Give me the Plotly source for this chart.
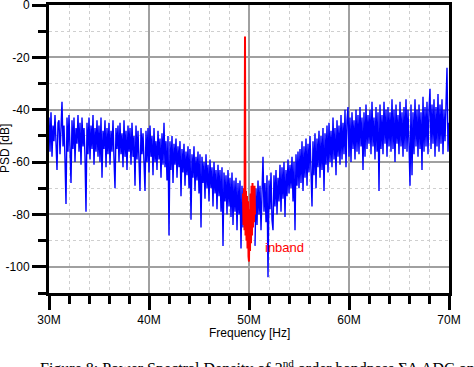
import plotly.graph_objects as go

# ---- data (MHz, dB) ----
blue_left_start = 30.0   # MHz, bin spacing 0.1 MHz
blue_left_db = [
    -43, -56, -41, -58, -46, -52, -42, -55, -63, -45,
    -44, -57, -42, -37, -54, -46, -59, -76, -43, -56,
    -42, -58, -68, -44, -55, -43, -60, -47, -53, -42,
    -56, -45, -61, -43, -54, -47, -58, -79, -45, -57,
    -43, -59, -46, -55, -42, -61, -47, -56, -44, -58,
    -46, -60, -43, -66, -48, -55, -44, -62, -47, -57,
    -45, -61, -48, -56, -44, -59, -70, -47, -55, -46,
    -60, -45, -57, -49, -62, -44, -58, -48, -63, -46,
    -56, -47, -61, -45, -58, -50, -69, -46, -59, -48,
    -62, -71, -47, -57, -49, -63, -71, -48, -60, -47,
    -64, -46, -58, -50, -65, -47, -60, -52, -63, -48,
    -59, -51, -66, -49, -61, -45, -62, -52, -67, -50,
    -88, -52, -63, -50, -68, -53, -61, -51, -66, -54,
    -62, -52, -73, -55, -64, -53, -69, -56, -65, -54,
    -70, -55, -82, -57, -66, -54, -71, -58, -67, -56,
    -72, -57, -85, -58, -68, -60, -74, -57, -70, -61,
    -75, -59, -70, -62, -77, -60, -72, -63, -78, -61,
    -73, -63, -79, -62, -92, -64, -75, -65, -80, -63,
    -77, -66, -81, -64, -84, -67, -79, -66, -86, -68,
    -80, -67, -93, -69, -85,
]

blue_right_start = 50.6  # MHz, bin spacing 0.1 MHz
blue_right_db = [
    -92, -70, -84, -67,
    -80, -69, -86, -66, -58, -79, -68, -83, -65, -104,
    -67, -78, -64, -82, -86, -65, -77, -63, -80, -66,
    -75, -61, -79, -62, -74, -60, -81, -63, -73, -59,
    -72, -61, -70, -58, -75, -60, -86, -57, -69, -56,
    -70, -55, -68, -52, -71, -54, -66, -51, -69, -53,
    -64, -50, -67, -77, -52, -65, -49, -70, -51, -62,
    -48, -66, -50, -63, -47, -71, -49, -61, -46, -64,
    -45, -60, -48, -62, -43, -59, -47, -65, -44, -58,
    -46, -61, -42, -59, -45, -57, -40, -62, -44, -39,
    -58, -43, -60, -41, -55, -44, -59, -40, -56, -42,
    -57, -39, -54, -43, -63, -41, -58, -38, -55, -42,
    -53, -40, -57, -37, -54, -43, -59, -39, -56, -41,
    -71, -38, -55, -42, -57, -37, -53, -40, -58, -39,
    -54, -41, -56, -36, -55, -40, -60, -38, -53, -42,
    -57, -37, -54, -41, -58, -39, -55, -36, -56, -40,
    -53, -69, -38, -65, -41, -57, -36, -54, -40, -58,
    -38, -55, -41, -63, -35, -56, -39, -54, -37, -57,
    -40, -32, -55, -38, -53, -36, -58, -39, -54, -34,
    -56, -38, -53, -36, -57, -40, -52, -35, -24, -56,
    -45,
]

red_start = 49.40        # MHz, bin spacing 0.05 MHz
red_db = [
    -72, -84, -70, -86, -12, -88, -71, -90, -73, -93,
    -75, -96, -98, -78, -94, -72, -91, -69, -88, -68,
    -85, -70, -83, -69, -80,
]

x_tick_vals = [30, 40, 50, 60, 70]
x_tick_text = ["30M", "40M", "50M", "60M", "70M"]
x_minor_vals = [32, 34, 36, 38, 42, 44, 46, 48, 52, 54, 56, 58, 62, 64, 66, 68]
y_tick_vals = [0, -20, -40, -60, -80, -100]
y_tick_text = ["0", "-20", "-40", "-60", "-80", "-100"]
y_minor_vals = [-10, -30, -50, -70, -90, -110]

blue_left_f = [round(blue_left_start + 0.1 * i, 2) for i in range(len(blue_left_db))]
blue_right_f = [round(blue_right_start + 0.1 * i, 2) for i in range(len(blue_right_db))]
red_f = [round(red_start + 0.05 * i, 3) for i in range(len(red_db))]

fig = go.Figure()
for xf, yd in ((blue_left_f, blue_left_db), (blue_right_f, blue_right_db)):
    fig.add_trace(go.Scatter(x=xf, y=yd, mode="lines",
                             line=dict(color="#0000ff", width=1.4),
                             hoverinfo="skip", showlegend=False))
fig.add_trace(go.Scatter(x=red_f, y=red_db, mode="lines",
                         line=dict(color="#ff0000", width=2),
                         hoverinfo="skip", showlegend=False))

font = "Arial, Liberation Sans, sans-serif"
axis_common = dict(
    showline=True, linewidth=3, linecolor="black", mirror=True, automargin=False,
    ticks="outside", tickwidth=3, tickcolor="black", ticklen=14,
    showgrid=True, gridcolor="#a0a0a0", gridwidth=1.5, zeroline=False,
    ticklabeloverflow="allow",
    tickfont=dict(family=font, size=12, color="black"),
)
fig.update_layout(
    width=474, height=367,
    margin=dict(l=49, r=25, t=5, b=74),
    plot_bgcolor="white", paper_bgcolor="white",
    xaxis=dict(range=[30, 70], tickmode="array", tickvals=x_tick_vals, ticktext=x_tick_text,
               minor=dict(tickmode="array", tickvals=x_minor_vals, ticks="outside", ticklen=8,
                          tickwidth=3, tickcolor="black", showgrid=True,
                          gridcolor="#cfcfcf", griddash="dot", gridwidth=1),
               **axis_common),
    yaxis=dict(range=[-110, 0], tickmode="array", tickvals=y_tick_vals, ticktext=y_tick_text,
               minor=dict(tickmode="array", tickvals=y_minor_vals, ticks="outside", ticklen=8,
                          tickwidth=3, tickcolor="black", showgrid=True,
                          gridcolor="#cfcfcf", griddash="dot", gridwidth=1),
               **axis_common),
    annotations=[
        dict(text="inband", x=53.5, y=-92.5, xref="x", yref="y", showarrow=False,
             font=dict(family=font, size=13, color="#ff0000")),
        dict(text="PSD [dB]", textangle=-90, x=(5 - 49) / 400, y=0.5, xref="paper", yref="paper",
             xanchor="center", yanchor="middle", showarrow=False,
             font=dict(family=font, size=12, color="black")),
        dict(text="Frequency [Hz]", x=0.5, y=(293 - 333) / 288, xref="paper", yref="paper",
             xanchor="center", yanchor="middle", showarrow=False,
             font=dict(family=font, size=12, color="black")),
        dict(text="Figure 8: Power Spectral Density of 2<sup>nd</sup> order bandpass ΣΔ ADC on",
             x=(38 - 49) / 400, y=(293 - 355) / 288, xref="paper", yref="paper",
             xanchor="left", yanchor="top", showarrow=False,
             font=dict(family="Liberation Serif, Times New Roman, serif", size=16, color="black")),
    ],
)

fig.write_html("out.html", config={"displayModeBar": False},
               post_script="document.body.style.margin='0';document.body.style.overflow='hidden';")
